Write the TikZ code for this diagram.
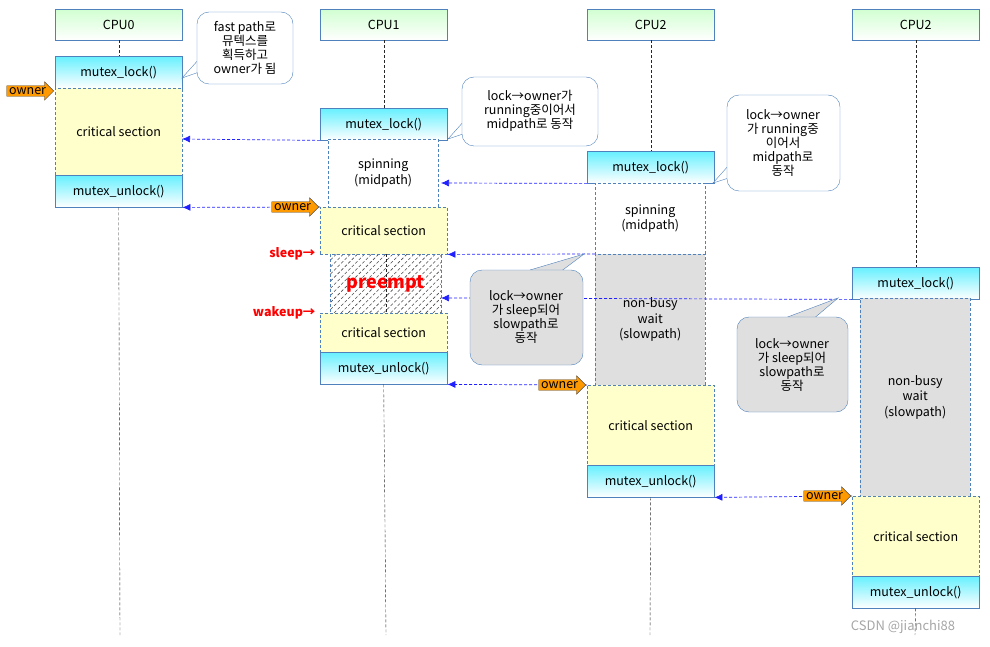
\documentclass[tikz,border=0pt]{standalone}
\usepackage{fontspec}
\setmainfont{Noto Sans CJK KR}
\usetikzlibrary{shapes.arrows,patterns.meta,arrows.meta}
\definecolor{edge}{HTML}{4F81BD}
\definecolor{cyanbox}{HTML}{66F0FF}
\definecolor{yel}{HTML}{FFFFCC}
\definecolor{orng}{HTML}{FF9900}
\definecolor{msgblue}{HTML}{2020FF}
\tikzset{
  blk/.style={draw=edge, anchor=north west, inner sep=0pt, font=\fontsize{12.5}{15.5}\selectfont, align=center},
  head/.style={blk, top color=green!18, bottom color=white, minimum width=127pt, minimum height=31pt},
  call/.style={blk, top color=cyanbox, bottom color=white, minimum width=127pt, minimum height=32pt},
  crit/.style={blk, densely dashed, fill=yel, minimum width=127pt},
  spin/.style={blk, densely dashed, fill=white, minimum width=110pt},
  wait/.style={blk, densely dashed, fill=gray!25, minimum width=110pt},
  life/.style={densely dashed, gray!30!black},
  msg/.style={densely dashed, draw=msgblue, line width=0.7pt, -{Latex[length=8pt,width=7pt]}},
  owner/.style={single arrow, draw=gray!60!black, fill=orng, inner xsep=0.5pt, inner ysep=1.5pt, single arrow head extend=4pt, minimum height=47pt, font=\fontsize{12.5}{13}\selectfont, anchor=tip},
  bubble/.style={draw=edge, rounded corners=12pt, fill=white},
  note/.style={font=\fontsize{12.5}{14}\selectfont, align=center},
  alert/.style={text=red, font=\bfseries\fontsize{12.5}{14}\selectfont, anchor=east}
}
\begin{document}
\begin{tikzpicture}[x=1pt,y=-1pt]
\useasboundingbox (0,0) rectangle (990,647);

% CPU0
\node[head] (head0) at (55,9) {CPU0};
\node[call] (lock0) at (55,56) {mutex\_lock()};
\node[crit, minimum height=87pt] (cs0) at (55,88) {critical section};
\node[call] (unlock0) at (55,175) {mutex\_unlock()};
\coordinate (end0) at (120,635);
\draw[life] (head0) -- (lock0);
\draw[life] (unlock0.south) -- (end0);
\node[owner] (own0) at (54,91) {owner};

% CPU1
\node[head] (head1) at (320,9) {CPU1};
\node[call] (lock1) at (320,108) {mutex\_lock()};
\node[spin, minimum height=68pt] (spin1) at (328,139) {spinning\\(midpath)};
\node[crit, minimum height=47pt] (cs1) at (320,207) {critical section};
\fill[white] (330,254) rectangle (441,313);
\draw[edge, densely dashed, pattern={Lines[angle=45,distance=5pt,line width=0.6pt]}, pattern color=gray!60!black] (330,254) rectangle (441,313);
\node[blk, draw=none, minimum width=111pt, minimum height=59pt, text=red, font=\bfseries\fontsize{18}{20}\selectfont] (pre1) at (330,254) {preempt};
\node[crit, minimum height=39pt] (cs1b) at (320,313) {critical section};
\node[call] (unlock1) at (320,352) {mutex\_unlock()};
\coordinate (end1) at (386,635);
\draw[life] (head1) -- (lock1);
\draw[life] (386,254) -- (386,313);
\draw[life] (unlock1.south) -- (end1);
\node[alert] (sleep) at (319,254) {sleep→};
\node[alert] (wake) at (319,313) {wakeup→};

% CPU2
\node[head] (head2) at (587,9) {CPU2};
\node[call] (lock2) at (587,151) {mutex\_lock()};
\node[spin, minimum height=71pt] (spin2) at (595,183) {spinning\\(midpath)};
\node[wait, minimum height=131pt] (wait2) at (595,254) {non-busy\\wait\\(slowpath)};
\node[crit, minimum height=80pt] (cs2) at (587,385) {critical section};
\node[call] (unlock2) at (587,465) {mutex\_unlock()};
\coordinate (end2) at (650,635);
\draw[life] (head2) -- (lock2);
\draw[life] (unlock2.south) -- (end2);

% CPU3
\node[head] (head3) at (852,9) {CPU2};
\node[call] (lock3) at (852,267) {mutex\_lock()};
\node[wait, minimum height=198pt] (wait3) at (860,298) {non-busy\\wait\\(slowpath)};
\node[crit, minimum height=80pt] (cs3) at (852,496) {critical section};
\node[call] (unlock3) at (852,576) {mutex\_unlock()};
\coordinate (end3) at (915,635);
\draw[life] (head3) -- (lock3);
\draw[life] (unlock3.south) -- (end3);

% messages
\coordinate (hit0) at (182,139);
\coordinate (hit1) at (441,183);
\coordinate (hit2) at (441,298);
\draw[msg] (lock1.south west) -- (hit0);
\draw[msg] (cs1.north west) -- (unlock0.south east);
\draw[msg] (lock2.south west) -- (hit1);
\draw[msg] (wait2.north west) -- (cs1.south east);
\draw[msg] (lock3.south west) -- (hit2);
\draw[msg] (cs2.north west) -- (unlock1.south east);
\draw[msg] (cs3.north west) -- (unlock2.south east);
\node[owner] (own1) at (319,207) {owner};
\node[owner] (own2) at (586,385) {owner};
\node[owner] (own3) at (851,496) {owner};

% bubbles
\draw[bubble, sharp corners, fill=white] (205,70) -- (182,78) -- (200,58);
\draw[bubble] (197,12) rectangle (293,84);
\node[note] (b1) at (245,48) {fast path로\\뮤텍스를\\획득하고\\owner가 됨};
\draw[bubble, sharp corners] (465,120) -- (448,139) -- (475,130);
\draw[bubble] (462,77) rectangle (598,146);
\node[note] (b2) at (530,111) {lock→owner가\\running중이어서\\midpath로 동작};
\draw[bubble, sharp corners] (729,165) -- (713,183) -- (738,175);
\draw[bubble] (727,95) rectangle (840,191);
\node[note] (b3) at (783,143) {lock→owner\\가 running중\\이어서\\midpath로\\동작};
\draw[bubble, fill=gray!25, sharp corners] (530,270) -- (584,254) -- (560,272);
\draw[bubble, fill=gray!25] (470,270) rectangle (583,365);
\node[note] (b4) at (526,317) {lock→owner\\가 sleep되어\\slowpath로\\동작};
\draw[bubble, fill=gray!25, sharp corners] (785,318) -- (838,298) -- (812,320);
\draw[bubble, fill=gray!25] (737,317) rectangle (848,412);
\node[note] (b5) at (792,365) {lock→owner\\가 sleep되어\\slowpath로\\동작};

\node[text=gray!70, font=\fontsize{13}{14}\selectfont] (mark) at (903,627) {CSDN @jianchi88};
\end{tikzpicture}
\end{document}
